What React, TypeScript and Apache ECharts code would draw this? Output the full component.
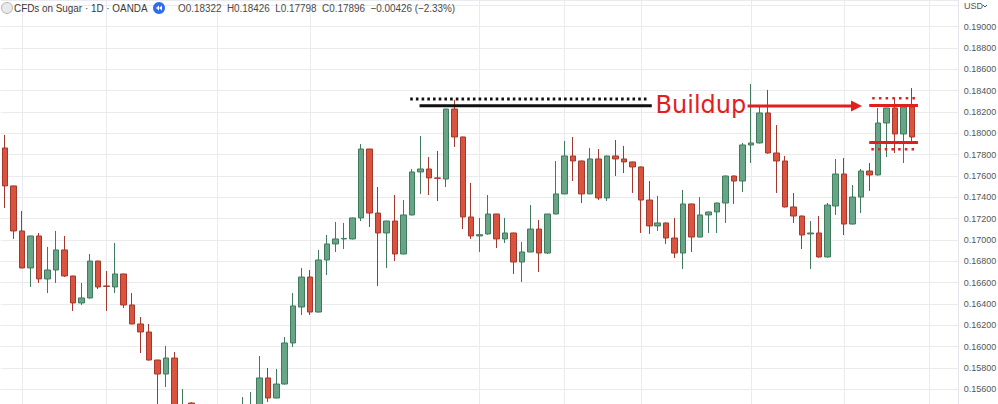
import React, { useEffect, useRef } from "react";
import * as echarts from "echarts";

// ---- data ----
// candles: [open, close, low, high]
const candles: number[][] = [
  [0.17863, 0.17507, 0.173, 0.17985],
  [0.17507, 0.17085, 0.1701, 0.1751],
  [0.17085, 0.16738, 0.16735, 0.17272],
  [0.16738, 0.17038, 0.1656, 0.1704],
  [0.17038, 0.16635, 0.16597, 0.17066],
  [0.16635, 0.16719, 0.16503, 0.16935],
  [0.16719, 0.16907, 0.16597, 0.17085],
  [0.16907, 0.16663, 0.16653, 0.17038],
  [0.16663, 0.1641, 0.16335, 0.16665],
  [0.1641, 0.16457, 0.16391, 0.16597],
  [0.16457, 0.16803, 0.1645, 0.16869],
  [0.16803, 0.1656, 0.16541, 0.16805],
  [0.16569, 0.16565, 0.16335, 0.1671],
  [0.1656, 0.16682, 0.16503, 0.16972],
  [0.16682, 0.16391, 0.16363, 0.16685],
  [0.16391, 0.16213, 0.1621, 0.16503],
  [0.16213, 0.16138, 0.15941, 0.16278],
  [0.16138, 0.15875, 0.1587, 0.16213],
  [0.15875, 0.15744, 0.154, 0.15878],
  [0.15744, 0.15894, 0.15622, 0.16007],
  [0.15894, 0.154, 0.1535, 0.1595],
  [0.1535, 0.1545, 0.1528, 0.15603],
  [0.15472, 0.154, 0.153, 0.1548],
  [0.154, 0.1528, 0.152, 0.1544],
  [0.1528, 0.1515, 0.1508, 0.1532],
  [0.1515, 0.1524, 0.151, 0.153],
  [0.1524, 0.1536, 0.1518, 0.154],
  [0.1536, 0.1529, 0.1522, 0.1542],
  [0.1532, 0.1541, 0.1525, 0.15528],
  [0.1538, 0.1545, 0.153, 0.15575],
  [0.1544, 0.15707, 0.154, 0.15913],
  [0.15707, 0.15519, 0.15482, 0.158],
  [0.15519, 0.1565, 0.15515, 0.15791],
  [0.1565, 0.16035, 0.15645, 0.16091],
  [0.16035, 0.16382, 0.15997, 0.16503],
  [0.16372, 0.16653, 0.16297, 0.16738],
  [0.16653, 0.16325, 0.16297, 0.16719],
  [0.16325, 0.16813, 0.1632, 0.16907],
  [0.16813, 0.16963, 0.16672, 0.17047],
  [0.16963, 0.1701, 0.16888, 0.17169],
  [0.1701, 0.17015, 0.16916, 0.1716],
  [0.1701, 0.17207, 0.17005, 0.1721],
  [0.17207, 0.17853, 0.17178, 0.179],
  [0.17853, 0.17253, 0.17122, 0.17855],
  [0.17253, 0.17066, 0.16569, 0.17497],
  [0.17066, 0.17178, 0.16738, 0.1718],
  [0.17178, 0.16869, 0.16803, 0.17422],
  [0.16869, 0.17235, 0.16865, 0.17375],
  [0.17235, 0.17638, 0.1723, 0.17666],
  [0.17638, 0.17666, 0.17432, 0.17975],
  [0.17666, 0.17582, 0.17422, 0.17778],
  [0.17582, 0.17578, 0.17366, 0.17835],
  [0.17572, 0.18228, 0.17497, 0.1823],
  [0.18228, 0.17966, 0.17872, 0.18313],
  [0.17966, 0.17216, 0.17103, 0.1797],
  [0.17216, 0.17038, 0.1701, 0.17535],
  [0.17038, 0.1705, 0.16888, 0.17207],
  [0.17057, 0.17244, 0.1705, 0.17422],
  [0.17244, 0.1701, 0.16925, 0.17245],
  [0.1701, 0.17066, 0.16972, 0.17207],
  [0.17066, 0.16794, 0.16682, 0.1707],
  [0.16794, 0.16888, 0.16607, 0.16982],
  [0.16888, 0.17103, 0.16885, 0.17328],
  [0.17103, 0.16878, 0.167, 0.17188],
  [0.16878, 0.17244, 0.16869, 0.17245],
  [0.17244, 0.17432, 0.1724, 0.17741],
  [0.17432, 0.17788, 0.1743, 0.17928],
  [0.17788, 0.17741, 0.17553, 0.17966],
  [0.17741, 0.17432, 0.17347, 0.17745],
  [0.17432, 0.1776, 0.1743, 0.17863],
  [0.1776, 0.17394, 0.17375, 0.17853],
  [0.17394, 0.17788, 0.17366, 0.1779],
  [0.17788, 0.1776, 0.176, 0.17938],
  [0.1776, 0.17732, 0.17628, 0.17882],
  [0.17732, 0.17685, 0.17441, 0.17735],
  [0.17685, 0.17375, 0.17066, 0.1769],
  [0.17375, 0.17132, 0.17057, 0.17553],
  [0.17132, 0.1716, 0.17085, 0.17413],
  [0.1716, 0.17019, 0.16963, 0.17165],
  [0.17019, 0.16878, 0.16832, 0.17207],
  [0.16878, 0.17338, 0.16728, 0.17469],
  [0.17338, 0.17028, 0.16888, 0.1734],
  [0.17028, 0.17235, 0.17025, 0.17403],
  [0.17235, 0.17263, 0.17066, 0.17265],
  [0.17263, 0.17347, 0.17066, 0.1735],
  [0.17347, 0.176, 0.1716, 0.17605],
  [0.176, 0.17553, 0.17338, 0.17605],
  [0.17553, 0.17891, 0.1745, 0.1791],
  [0.17891, 0.1791, 0.17722, 0.18463],
  [0.1791, 0.18191, 0.17905, 0.18266],
  [0.18191, 0.17816, 0.1781, 0.18407],
  [0.17816, 0.17741, 0.17441, 0.18078],
  [0.17741, 0.1731, 0.17305, 0.17788],
  [0.1731, 0.17225, 0.1716, 0.17441],
  [0.17225, 0.17047, 0.16916, 0.1723],
  [0.17057, 0.17066, 0.16728, 0.17178],
  [0.17066, 0.16841, 0.16835, 0.17225],
  [0.16841, 0.17328, 0.16835, 0.17347],
  [0.17319, 0.17619, 0.17235, 0.1776],
  [0.17619, 0.1715, 0.17047, 0.17769],
  [0.1715, 0.17403, 0.17145, 0.17516],
  [0.17403, 0.17647, 0.17253, 0.17666],
  [0.17647, 0.1761, 0.1746, 0.17722],
  [0.1761, 0.18097, 0.17605, 0.18238],
  [0.18097, 0.18238, 0.17778, 0.1824],
  [0.18238, 0.17994, 0.17816, 0.18332],
  [0.17994, 0.18247, 0.17722, 0.1825],
  [0.18247, 0.17966, 0.179, 0.18425],
];
const emptySlots = 5; // blank days to the right of the last candle
const categories: string[] = Array.from({ length: candles.length + emptySlots }, (_, i) => "D" + (i + 1));
const verticalGridDays = [2, 12, 25, 36, 56, 66, 75, 88, 99, 109];
const priceTickLabels = [
  "0.15600", "0.15800", "0.16000", "0.16200", "0.16400", "0.16600", "0.16800", "0.17000", "0.17200",
  "0.17400", "0.17600", "0.17800", "0.18000", "0.18200", "0.18400", "0.18600", "0.18800", "0.19000",
];
const PRICE_MIN = 0.154;
const PRICE_MAX = 0.1925;
const PRICE_STEP = 0.002;

const titleText = "CFDs on Sugar · 1D · OANDA";
const ohlcText = "O0.18322  H0.18426  L0.17798  C0.17896  −0.00426 (−2.33%)";

// annotations: x in (fractional) day index, y in price
const blackDotted = { from: 47.8, to: 76.0, price: 0.18322 };
const blackSolid = { from: 48.9, to: 76.3, price: 0.18259 };
const buildupLabel = { text: "Buildup", at: 76.75, price: 0.18266 };
const redArrow = { from: 87.6, to: 101.1, price: 0.18257 };
const rangeTopSolid = { from: 101.95, to: 107.7, price: 0.18261 };
const rangeTopDotted = { from: 102.3, to: 107.5, price: 0.18329 };
const rangeBottomSolid = { from: 101.95, to: 107.7, price: 0.17913 };
const rangeBottomDotted = { from: 102.2, to: 107.5, price: 0.17852 };

const UP = "#68a586";
const UP_BORDER = "#3f7a5c";
const DOWN = "#d9533f";
const DOWN_BORDER = "#a3392c";
const GRID_COLOR = "#e9ebef";
const RED = "#e0201f";

export default function App() {
  const ref = useRef<HTMLDivElement>(null);
  useEffect(() => {
    if (!ref.current) return;
    const chart = echarts.init(ref.current, undefined, { renderer: "svg" });
    const n = categories.length;
    const band = 8.477;
    const gridLeft = 5 - band / 2;
    chart.setOption({
      animation: false,
      backgroundColor: "#ffffff",
      grid: { left: gridLeft, top: 0, width: band * n, height: 410.7, outerBoundsMode: "none", containLabel: false },
      xAxis: {
        type: "category",
        data: categories,
        boundaryGap: true,
        axisLine: { show: false },
        axisTick: { show: false },
        axisLabel: { show: false },
        splitLine: { show: false },
      },
      yAxis: {
        type: "value",
        position: "right",
        min: PRICE_MIN,
        max: PRICE_MAX,
        interval: PRICE_STEP,
        axisLine: { show: true, lineStyle: { color: "#e3e5ea", width: 1 } },
        axisTick: { show: false },
        splitLine: { show: true, lineStyle: { color: GRID_COLOR, width: 1 } },
        axisLabel: {
          color: "#555",
          fontSize: 9,
          fontFamily: "Liberation Sans",
          margin: 5,
          formatter: (v: number) => {
            const s = (Math.round(v * 1000) / 1000).toFixed(5);
            return priceTickLabels.indexOf(s) >= 0 ? s : "";
          },
        },
      },
      series: [
        {
          type: "candlestick",
          data: candles,
          barWidth: 6,
          z: 2,
          itemStyle: {
            color: UP,
            color0: DOWN,
            borderColor: UP_BORDER,
            borderColor0: DOWN_BORDER,
            borderWidth: 1,
          },
          markLine: {
            silent: true,
            z: 1,
            symbol: ["none", "none"],
            label: { show: false },
            lineStyle: { color: GRID_COLOR, width: 1, type: "solid" },
            emphasis: { disabled: true },
            data: verticalGridDays.map((d) => ({ xAxis: d })),
          },
        },
      ],
    });

    const px = (i: number) => {
      const f = Math.floor(i);
      const a = chart.convertToPixel({ xAxisIndex: 0 }, f) as number;
      const b = chart.convertToPixel({ xAxisIndex: 0 }, f + 1) as number;
      return a + (i - f) * (b - a);
    };
    const py = (p: number) => chart.convertToPixel({ yAxisIndex: 0 }, p) as number;
    const hLine = (seg: { from: number; to: number; price: number }, color: string, width: number, dash?: number[]) => ({
      type: "line",
      silent: true,
      z: 20,
      shape: { x1: px(seg.from), y1: py(seg.price), x2: px(seg.to), y2: py(seg.price) },
      style: { stroke: color, lineWidth: width, lineDash: dash || null },
    });
    const ax2 = px(redArrow.to);
    const ay = py(redArrow.price);

    chart.setOption({
      graphic: [
        hLine(blackDotted, "#111", 3, [2.6, 3.1]),
        hLine(blackSolid, "#111", 3),
        {
          type: "text",
          silent: true,
          z: 20,
          style: {
            text: buildupLabel.text,
            x: px(buildupLabel.at),
            y: py(buildupLabel.price),
            fill: RED,
            fontSize: 24,
            fontFamily: "DejaVu Sans",
            align: "left",
            verticalAlign: "middle",
          },
        },
        {
          type: "line",
          silent: true,
          z: 20,
          shape: { x1: px(redArrow.from), y1: ay, x2: ax2 - 9, y2: ay },
          style: { stroke: RED, lineWidth: 3 },
        },
        {
          type: "polygon",
          silent: true,
          z: 20,
          shape: { points: [[ax2, ay], [ax2 - 11, ay - 5.5], [ax2 - 11, ay + 5.5]] },
          style: { fill: RED },
        },
        hLine(rangeTopSolid, RED, 3),
        hLine(rangeTopDotted, RED, 2.5, [2.5, 4.2]),
        hLine(rangeBottomSolid, RED, 3),
        hLine(rangeBottomDotted, RED, 2.5, [2.5, 4.2]),
        // header
        {
          type: "circle",
          silent: true,
          z: 30,
          shape: { cx: 7, cy: 8, r: 5.5 },
          style: { fill: "#e9e9e9", stroke: "#b5b5b5", lineWidth: 1 },
        },
        {
          type: "text",
          silent: true,
          z: 30,
          x: 14,
          y: 8,
          scaleX: 0.9,
          style: { text: titleText, x: 0, y: 0, fill: "#3a3a3a", fontSize: 11, fontFamily: "Liberation Sans", verticalAlign: "middle" },
        },
        {
          type: "circle",
          silent: true,
          z: 30,
          shape: { cx: 159, cy: 8, r: 6 },
          style: { fill: "#2f6df0" },
        },
        {
          type: "polygon",
          silent: true,
          z: 31,
          shape: { points: [[156, 8], [159, 5.5], [159, 10.5]] },
          style: { fill: "#fff" },
        },
        {
          type: "polygon",
          silent: true,
          z: 31,
          shape: { points: [[159, 8], [162, 5.5], [162, 10.5]] },
          style: { fill: "#fff" },
        },
        {
          type: "text",
          silent: true,
          z: 30,
          x: 178,
          y: 8,
          scaleX: 0.9,
          style: { text: ohlcText, x: 0, y: 0, fill: "#4a4a4a", fontSize: 11, fontFamily: "Liberation Sans", verticalAlign: "middle" },
        },
        {
          type: "text",
          silent: true,
          z: 30,
          style: { text: "USD", x: 964, y: 6, fill: "#555", fontSize: 9, fontFamily: "Liberation Sans", verticalAlign: "middle" },
        },
        {
          type: "polyline",
          silent: true,
          z: 30,
          shape: { points: [[983, 5], [985, 7], [987, 5]] },
          style: { stroke: "#555", lineWidth: 1, fill: null },
        },
      ],
    });
    return () => chart.dispose();
  }, []);
  return <div ref={ref} style={{ position: "fixed", left: 0, top: 0, width: 998, height: 404 }} />;
}
